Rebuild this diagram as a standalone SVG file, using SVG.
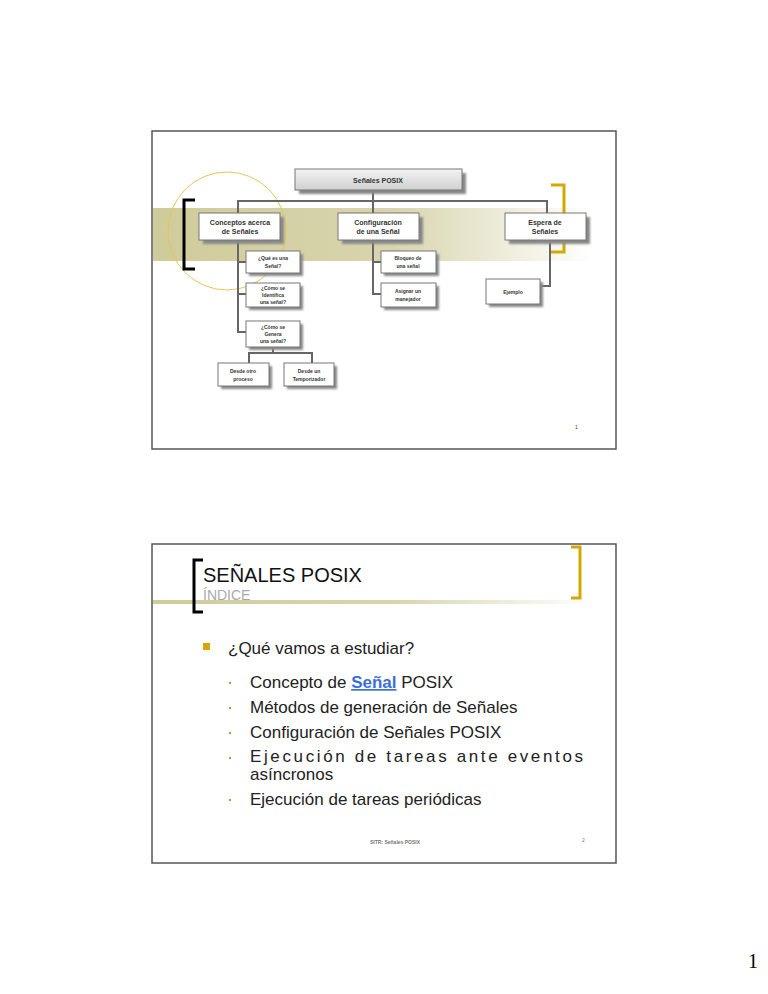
<svg xmlns="http://www.w3.org/2000/svg" width="768" height="994" viewBox="0 0 768 994">
<defs>
<linearGradient id="band" x1="0" x2="1" y1="0" y2="0">
<stop offset="0" stop-color="#cfcb9a"/><stop offset="0.55" stop-color="#d8d5ae"/><stop offset="1" stop-color="#ffffff"/>
</linearGradient>
<linearGradient id="root" x1="0" x2="0" y1="0" y2="1">
<stop offset="0" stop-color="#f4f4f4"/><stop offset="1" stop-color="#cfcfcf"/>
</linearGradient>
<filter id="sh" x="-20%" y="-20%" width="150%" height="160%"><feGaussianBlur stdDeviation="1.2"/></filter>
</defs>
<style>
.frame{fill:#fff;stroke:#555;stroke-width:1.5}
.box{fill:#fff;stroke:#777;stroke-width:1}
.shadow{fill:#888;filter:url(#sh)}
.lbl{font-family:"Liberation Sans",Arial,sans-serif;font-weight:bold;fill:#333;text-anchor:middle}
.conn{fill:none;stroke:#666;stroke-width:2}
.body{font-family:"Liberation Sans",Arial,sans-serif;font-size:17px;fill:#222}
.dot{fill:#a8a040}
</style>
<rect width="768" height="994" fill="#fff"/>
<!-- Slide 1 -->
<rect class="frame" x="152" y="131" width="464" height="318"/>
<rect x="153" y="208" width="440" height="53" fill="url(#band)"/>
<circle cx="227" cy="231" r="59" fill="none" stroke="#e8c35a" stroke-width="1"/>
<path d="M195 200 H184 V269 H195" fill="none" stroke="#000" stroke-width="3"/>
<path d="M551 185 H564 V252 H551" fill="none" stroke="#d4a800" stroke-width="3"/>
<g id="connectors">
<path class="conn" d="M373 190 V201 M238 213 V201 H547 V213 M373 201 V213"/>
<path class="conn" d="M238 240 V332 H246 M238 262 H246 M238 294 H246"/>
<path class="conn" d="M373 240 V294 H381 M373 262 H381"/>
<path class="conn" d="M550 240 V286 H540"/>
<path class="conn" d="M273 347 V353 M249 363 V353 H312 V363"/>
</g>
<g id="n-root"><rect class="shadow" x="299" y="173" width="167" height="21"/><rect x="295" y="169" width="167" height="21" fill="url(#root)" stroke="#777"/><text class="lbl" x="378" y="183" font-size="7">Señales POSIX</text></g>
<g id="n-conceptos"><rect class="shadow" x="203" y="217" width="81" height="27"/><rect class="box" x="199" y="213" width="81" height="27"/><text class="lbl" x="240" y="225" font-size="7">Conceptos acerca</text><text class="lbl" x="240" y="234" font-size="7">de Señales</text></g>
<g id="n-config"><rect class="shadow" x="342" y="217" width="81" height="27"/><rect class="box" x="338" y="213" width="81" height="27"/><text class="lbl" x="378" y="225" font-size="7">Configuración</text><text class="lbl" x="378" y="234" font-size="7">de una Señal</text></g>
<g id="n-espera"><rect class="shadow" x="509" y="217" width="81" height="27"/><rect class="box" x="505" y="213" width="81" height="27"/><text class="lbl" x="545" y="225" font-size="7">Espera de</text><text class="lbl" x="545" y="234" font-size="7">Señales</text></g>
<g id="n-que"><rect class="shadow" x="249" y="254" width="54" height="22"/><rect class="box" x="246" y="251" width="54" height="22"/><text class="lbl" x="273" y="260" font-size="5">¿Qué es una</text><text class="lbl" x="273" y="268" font-size="5">Señal?</text></g>
<g id="n-identifica"><rect class="shadow" x="249" y="286" width="54" height="24"/><rect class="box" x="246" y="283" width="54" height="24"/><text class="lbl" x="273" y="290" font-size="5">¿Cómo se</text><text class="lbl" x="273" y="297" font-size="5">Identifica</text><text class="lbl" x="273" y="304" font-size="5">una señal?</text></g>
<g id="n-genera"><rect class="shadow" x="249" y="324" width="54" height="26"/><rect class="box" x="246" y="321" width="54" height="26"/><text class="lbl" x="273" y="329" font-size="5">¿Cómo se</text><text class="lbl" x="273" y="336" font-size="5">Genera</text><text class="lbl" x="273" y="343" font-size="5">una señal?</text></g>
<g id="n-bloqueo"><rect class="shadow" x="384" y="254" width="55" height="22"/><rect class="box" x="381" y="251" width="55" height="22"/><text class="lbl" x="408" y="260" font-size="5">Bloqueo de</text><text class="lbl" x="408" y="268" font-size="5">una señal</text></g>
<g id="n-asignar"><rect class="shadow" x="384" y="286" width="55" height="24"/><rect class="box" x="381" y="283" width="55" height="24"/><text class="lbl" x="408" y="293" font-size="5">Asignar un</text><text class="lbl" x="408" y="301" font-size="5">manejador</text></g>
<g id="n-ejemplo"><rect class="shadow" x="489" y="282" width="54" height="25"/><rect class="box" x="486" y="279" width="54" height="25"/><text class="lbl" x="513" y="294" font-size="5">Ejemplo</text></g>
<g id="n-otro"><rect class="shadow" x="221" y="366" width="51" height="23"/><rect class="box" x="218" y="363" width="51" height="23"/><text class="lbl" x="243" y="373" font-size="5">Desde otro</text><text class="lbl" x="243" y="381" font-size="5">proceso</text></g>
<g id="n-temp"><rect class="shadow" x="287" y="366" width="50" height="23"/><rect class="box" x="284" y="363" width="50" height="23"/><text class="lbl" x="309" y="373" font-size="5">Desde un</text><text class="lbl" x="309" y="381" font-size="5">Temporizador</text></g>
<text x="575" y="429" font-family="Liberation Sans,Arial,sans-serif" font-size="5" fill="#444">1</text>
<!-- Slide 2 -->
<rect class="frame" x="152" y="544" width="464" height="319"/>
<rect x="153" y="600" width="440" height="4" fill="url(#band)"/>
<path d="M203 560 H194 V612 H203" fill="none" stroke="#000" stroke-width="3"/>
<path d="M571 547 H580 V598 H571" fill="none" stroke="#d4a800" stroke-width="3"/>
<text x="203" y="582" font-family="Liberation Sans,Arial,sans-serif" font-size="20" fill="#111">SEÑALES POSIX</text>
<text x="203" y="600" font-family="Liberation Sans,Arial,sans-serif" font-size="14" fill="#aaa">ÍNDICE</text>
<rect x="203" y="643" width="7" height="7" fill="#d4a800"/>
<text class="body" x="228" y="654">¿Qué vamos a estudiar?</text>
<g class="dot"><circle cx="230" cy="683" r="1.2"/><circle cx="230" cy="708" r="1.2"/><circle cx="230" cy="733" r="1.2"/><circle cx="230" cy="758" r="1.2"/><circle cx="230" cy="800" r="1.2"/></g>
<text class="body" x="250" y="688">Concepto de <tspan fill="#3a6fd8" font-weight="bold" text-decoration="underline">Señal</tspan> POSIX</text>
<text class="body" x="250" y="713">Métodos de generación de Señales</text>
<text class="body" x="250" y="738">Configuración de Señales POSIX</text>
<text class="body" x="250" y="762" textLength="333" lengthAdjust="spacing">Ejecución de tareas ante eventos</text>
<text class="body" x="250" y="780">asíncronos</text>
<text class="body" x="250" y="805">Ejecución de tareas periódicas</text>
<text x="395" y="844" font-family="Liberation Sans,Arial,sans-serif" font-size="5" font-weight="bold" fill="#777" text-anchor="middle">SITR: Señales POSIX</text>
<text x="582" y="842" font-family="Liberation Sans,Arial,sans-serif" font-size="5" fill="#777">2</text>
<text x="748" y="968" font-family="Liberation Serif,serif" font-size="20" fill="#000">1</text>
</svg>
